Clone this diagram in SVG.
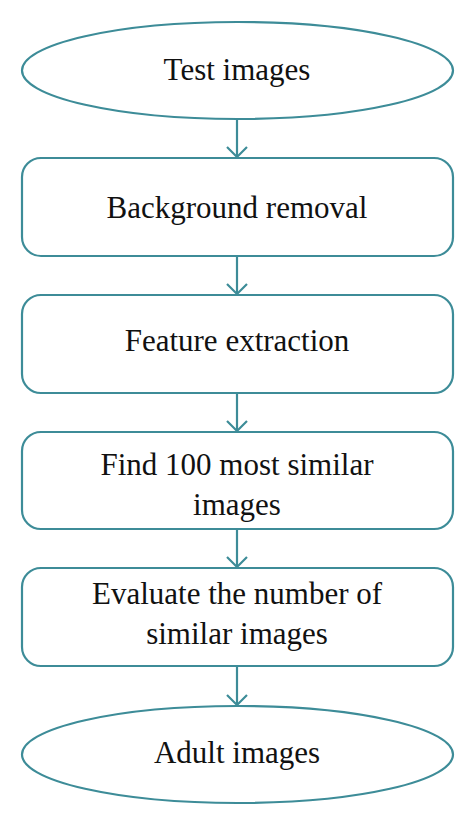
<svg xmlns="http://www.w3.org/2000/svg" width="474" height="825" viewBox="0 0 474 825">
<style>
.shape{fill:#ffffff;stroke:#3d8c98;stroke-width:2.2}
.lbl{font-family:"Liberation Serif","Times New Roman",serif;font-size:31px;fill:#111111;text-anchor:middle}
.conn{stroke:#3d8c98;stroke-width:2.2;fill:none}
.head{stroke:#3d8c98;stroke-width:2.2;fill:none;stroke-linejoin:miter}
</style>
<rect width="474" height="825" fill="#ffffff"/>
<g id="connectors">
<line class="conn" x1="237" y1="119" x2="237" y2="157"/>
<polyline class="head" points="227,147 237,157 247,147"/>
<line class="conn" x1="237" y1="256" x2="237" y2="294"/>
<polyline class="head" points="227,284 237,294 247,284"/>
<line class="conn" x1="237" y1="393" x2="237" y2="431"/>
<polyline class="head" points="227,421 237,431 247,421"/>
<line class="conn" x1="237" y1="529" x2="237" y2="567"/>
<polyline class="head" points="227,557 237,567 247,557"/>
<line class="conn" x1="237" y1="666" x2="237" y2="705"/>
<polyline class="head" points="227,695 237,705 247,695"/>
</g>
<g id="test-images">
<ellipse class="shape" cx="237.5" cy="70.5" rx="215.5" ry="48.5"/>
<text class="lbl" x="237" y="80">Test images</text>
</g>
<g id="background-removal">
<rect class="shape" x="22" y="158" width="431" height="98" rx="19"/>
<text class="lbl" x="237" y="218">Background removal</text>
</g>
<g id="feature-extraction">
<rect class="shape" x="22" y="295" width="431" height="98" rx="19"/>
<text class="lbl" x="237" y="351">Feature extraction</text>
</g>
<g id="find-similar">
<rect class="shape" x="22" y="432" width="431" height="97" rx="19"/>
<text class="lbl" x="237" y="475">Find 100 most similar</text>
<text class="lbl" x="237" y="515">images</text>
</g>
<g id="evaluate">
<rect class="shape" x="22" y="568" width="431" height="98" rx="19"/>
<text class="lbl" x="237" y="604">Evaluate the number of</text>
<text class="lbl" x="237" y="644">similar images</text>
</g>
<g id="adult-images">
<ellipse class="shape" cx="237.5" cy="754.5" rx="215.5" ry="48.5"/>
<text class="lbl" x="237" y="763">Adult images</text>
</g>
</svg>
